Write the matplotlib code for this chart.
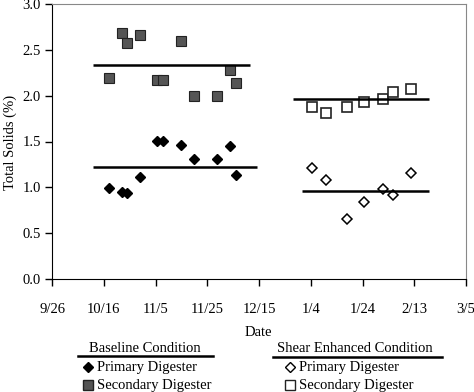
import matplotlib
matplotlib.use("Agg")
import matplotlib.pyplot as plt
from matplotlib.lines import Line2D

plt.rcParams['font.family'] = ['Liberation Serif', 'DejaVu Serif']
plt.rcParams['font.size'] = 10

# x values: days since 9/26
tick_days = [0, 20, 40, 60, 80, 100, 120, 140, 160]
tick_labels = ["9/26", "10/16", "11/5", "11/25", "12/15", "1/4", "1/24", "2/13", "3/5"]

base_days = [22.0, 27.1, 28.9, 34.1, 40.6, 43.0, 50.0, 55.0, 63.9, 68.8, 71.1]
base_primary = [0.99, 0.95, 0.94, 1.11, 1.51, 1.51, 1.46, 1.31, 1.31, 1.45, 1.13]
base_secondary = [2.19, 2.68, 2.57, 2.66, 2.17, 2.17, 2.60, 2.00, 2.00, 2.28, 2.14]

shear_days = [100.6, 105.9, 113.9, 120.6, 127.8, 131.7, 138.7]
shear_primary = [1.21, 1.08, 0.65, 0.84, 0.98, 0.92, 1.16]
shear_secondary = [1.88, 1.81, 1.88, 1.93, 1.96, 2.04, 2.07]

# mean lines: (start day, end day, value)
base_secondary_mean = (15.7, 76.5, 2.33)
base_primary_mean = (15.7, 79.3, 1.225)
shear_secondary_mean = (93.3, 145.8, 1.96)
shear_primary_mean = (96.7, 145.8, 0.963)

W, H = 474, 392
fig = plt.figure(figsize=(W / 100, H / 100), dpi=100)
ax = fig.add_axes([52 / W, 1 - 279 / H, (466 - 52) / W, (279 - 4) / H])

ax.plot(base_days, base_secondary, linestyle='none', marker='s', markersize=7.5,
        markerfacecolor='#555555', markeredgecolor='#222222', markeredgewidth=0.8)
ax.plot(base_days, base_primary, linestyle='none', marker='D', markersize=5.5,
        markerfacecolor='black', markeredgecolor='black')
ax.plot(shear_days, shear_secondary, linestyle='none', marker='s', markersize=7,
        markerfacecolor='white', markeredgecolor='#222222', markeredgewidth=1.2)
ax.plot(shear_days, shear_primary, linestyle='none', marker='D', markersize=5,
        markerfacecolor='white', markeredgecolor='black', markeredgewidth=1.1)

for (x0, x1, v) in [base_secondary_mean, base_primary_mean, shear_secondary_mean, shear_primary_mean]:
    ax.plot([x0, x1], [v, v], color='black', linewidth=1.8, solid_capstyle='butt')

ax.set_xlim(0, 160)
ax.set_ylim(0, 3.0)
ax.set_xticks(tick_days)
ax.set_xticklabels(tick_labels)
ax.set_yticks([0, 0.5, 1.0, 1.5, 2.0, 2.5, 3.0])
ax.set_yticklabels([f"{v:.1f}" for v in [0, 0.5, 1.0, 1.5, 2.0, 2.5, 3.0]])
ax.tick_params(direction='out', length=5, width=1, colors='black', labelsize=10.5)
ax.tick_params(axis='x', pad=12)
ax.tick_params(axis='y', pad=3)
for s in ['top', 'right']:
    ax.spines[s].set_color('#888888')
for s in ['left', 'bottom']:
    ax.spines[s].set_color('black')

def P(x, y):
    return (x / W, 1 - y / H)

fig.text(*P(10, 142), "Total Solids (%)", rotation=90, ha='center', va='center', fontsize=10.5)
fig.text(*P(258, 332), "Date", ha='center', va='center', fontsize=10.5)

# legend groups
fig.text(*P(145, 348), "Baseline Condition", ha='center', va='center', fontsize=10.5)
fig.add_artist(Line2D([78 / W, 213 / W], [1 - 356 / H, 1 - 356 / H], color='black', lw=1.8,
                      transform=fig.transFigure))
fig.text(*P(355, 348), "Shear Enhanced Condition", ha='center', va='center', fontsize=10.5)
fig.add_artist(Line2D([273 / W, 442 / W], [1 - 357 / H, 1 - 357 / H], color='black', lw=1.8,
                      transform=fig.transFigure))

items = [
    (88, 367, 'D', 'black', 'black', 5, "Primary Digester"),
    (88, 385, 's', '#555555', '#222222', 7, "Secondary Digester"),
    (290, 367, 'D', 'white', 'black', 5, "Primary Digester"),
    (290, 385, 's', 'white', '#222222', 7, "Secondary Digester"),
]
for x, y, m, fc, ec, ms, label in items:
    fig.add_artist(Line2D([x / W], [1 - y / H], marker=m, markersize=ms, markerfacecolor=fc,
                          markeredgecolor=ec, markeredgewidth=1.0, linestyle='none',
                          transform=fig.transFigure))
    fig.text(*P(x + 9, y), label, ha='left', va='center', fontsize=10.5)

fig.savefig("out.png", dpi=100)
